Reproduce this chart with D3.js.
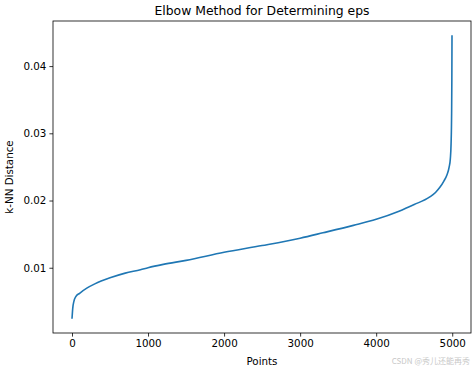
<!DOCTYPE html>
<html lang="en">
<head>
    <meta charset="UTF-8">
    <title>Elbow Method for Determining eps</title>
    <style>
        body { margin: 0; background: #fff; }
        svg text { font-family: "DejaVu Sans", sans-serif; fill: #000; }
        .axis path, .axis line { stroke: #000; stroke-width: 0.8px; }
        .axis text { font-size: 10.3px; }
    </style>
    <script src="https://d3js.org/d3.v7.min.js"></script>
</head>
<body>
    <script>
        // sorted k-NN distances, sampled along the curve (index, distance)
        const pointIndex = [0, 10, 25, 50, 100, 200, 300, 500, 700, 900, 1000, 1200, 1500, 2000, 2500,
            3000, 3300, 3700, 4000, 4300, 4500, 4700, 4780, 4840, 4890, 4930, 4960, 4975, 4985, 4992, 4995, 4997];
        const knnDistance = [0.0024, 0.0040, 0.0050, 0.0057, 0.0062, 0.0070, 0.0076, 0.0085, 0.0092, 0.0097, 0.0100,
            0.0105, 0.0111, 0.0123, 0.0133, 0.0144, 0.0152, 0.0163, 0.0172, 0.0184, 0.0194, 0.0205, 0.0212,
            0.0220, 0.0229, 0.0238, 0.0250, 0.0262, 0.0285, 0.0330, 0.0380, 0.0446];
        const xTicks = [0, 1000, 2000, 3000, 4000, 5000];
        const yTicks = [0.01, 0.02, 0.03, 0.04];

        const width = 474, height = 369;
        const margin = {top: 21, right: 3, bottom: 36, left: 53};

        const svg = d3.select("body").append("svg")
            .attr("width", width)
            .attr("height", height);

        // matplotlib-style 5% padding around the data
        const xExt = d3.extent(pointIndex), yExt = d3.extent(knnDistance);
        const xPad = (xExt[1] - xExt[0]) * 0.05, yPad = (yExt[1] - yExt[0]) * 0.05;

        const x = d3.scaleLinear()
            .domain([xExt[0] - xPad, xExt[1] + xPad])
            .range([margin.left, width - margin.right]);
        const y = d3.scaleLinear()
            .domain([yExt[0] - yPad, yExt[1] + yPad])
            .range([height - margin.bottom, margin.top]);

        const data = pointIndex.map((d, i) => ({i: d, v: knnDistance[i]}));

        svg.append("path")
            .datum(data)
            .attr("fill", "none")
            .attr("stroke", "#1f77b4")
            .attr("stroke-width", 1.6)
            .attr("stroke-linejoin", "round")
            .attr("d", d3.line().x(d => x(d.i)).y(d => y(d.v)).curve(d3.curveMonotoneX));

        // frame
        svg.append("rect")
            .attr("x", margin.left).attr("y", margin.top)
            .attr("width", width - margin.left - margin.right)
            .attr("height", height - margin.top - margin.bottom)
            .attr("fill", "none").attr("stroke", "#000").attr("stroke-width", 0.8);

        svg.append("g").attr("class", "axis")
            .attr("transform", `translate(0,${height - margin.bottom})`)
            .call(d3.axisBottom(x).tickValues(xTicks).tickFormat(d3.format("d")).tickSize(3.6).tickPadding(3))
            .call(g => g.select(".domain").remove());

        svg.append("g").attr("class", "axis")
            .attr("transform", `translate(${margin.left},0)`)
            .call(d3.axisLeft(y).tickValues(yTicks).tickFormat(d3.format(".2f")).tickSize(3.6).tickPadding(3))
            .call(g => g.select(".domain").remove());

        svg.append("text")
            .attr("x", (margin.left + width - margin.right) / 2).attr("y", 15)
            .attr("text-anchor", "middle").style("font-size", "12.4px")
            .text("Elbow Method for Determining eps");

        svg.append("text")
            .attr("x", (margin.left + width - margin.right) / 2).attr("y", 365)
            .attr("text-anchor", "middle").style("font-size", "10.3px")
            .text("Points");

        svg.append("text")
            .attr("transform", `translate(13,${(margin.top + height - margin.bottom) / 2}) rotate(-90)`)
            .attr("text-anchor", "middle").style("font-size", "10.3px")
            .text("k-NN Distance");

        // watermark
        svg.append("text")
            .attr("x", 470).attr("y", 364)
            .attr("text-anchor", "end")
            .style("font-size", "8px").style("fill", "#c8c8c8")
            .style("font-family", "'Noto Sans CJK SC', sans-serif")
            .text("CSDN @秀儿还能再秀");
    </script>
</body>
</html>
